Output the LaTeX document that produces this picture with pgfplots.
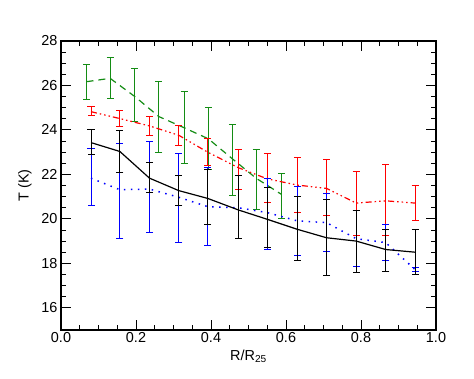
\documentclass[border=0pt]{standalone}
\usepackage{pgfplots}
\pgfplotsset{compat=1.18}
\usepackage{fontspec}
\setmainfont{Liberation Sans}
\definecolor{mygreen}{RGB}{20,140,20}
\begin{document}
\begin{tikzpicture}
\useasboundingbox (0,0) rectangle (474bp,379bp);
\begin{axis}[
  at={(61bp,49bp)}, anchor=south west,
  width=375bp, height=289bp, scale only axis,
  xmin=0, xmax=1, ymin=15, ymax=28,
  xtick={0,0.2,...,1.0}, ytick={16,18,...,28},
  minor x tick num=3, minor y tick num=3,
  xticklabel style={yshift=1bp, /pgf/number format/.cd, fixed, fixed zerofill, precision=1},
  /pgf/number format/assume math mode=true,
  tick align=inside,
  major tick length=10bp, minor tick length=5bp,
  axis line style={line width=1.1pt},
  every tick/.style={line width=0.9pt, black},
  tick label style={font=\fontsize{14.5}{16}\selectfont},
  label style={font=\fontsize{14.5}{16}\selectfont},
  xlabel={R/R\textsubscript{25}},
  ylabel={T (K)},
  xlabel style={yshift=0bp},
  ylabel style={yshift=3bp},
  error bars/y dir=both, error bars/y explicit,
  error bars/error mark options={line width=1pt, mark size=3.5bp, rotate=90},
  error bars/error bar style={line width=1pt},
]
\addplot[mygreen, line width=1.2pt, dash pattern=on 7bp off 5bp, mark=none,
  error bars/error bar style={mygreen, solid, line width=1pt},
  error bars/error mark options={mygreen, solid, line width=1pt, mark size=3.5bp, rotate=90}]
coordinates {
(0.068,26.17) += (0,0.79) -= (0,0.80)
(0.131,26.32) += (0,0.94) -= (0,0.90)
(0.197,25.50) += (0,1.28) -= (0,1.14)
(0.261,24.60) += (0,1.57) -= (0,1.60)
(0.328,24.10) += (0,1.62) -= (0,1.60)
(0.393,23.60) += (0,1.40) -= (0,1.40)
(0.457,22.70) += (0,1.54) -= (0,1.63)
(0.520,21.83) += (0,1.29) -= (0,1.39)
(0.588,21.10) += (0,0.95) -= (0,1.10)
};
\addplot[red, line width=1.2pt, dash pattern=on 6bp off 3bp on 1.5bp off 3bp on 1.5bp off 3bp on 1.5bp off 3bp, mark=none,
  error bars/error bar style={red, solid, line width=1pt},
  error bars/error mark options={red, solid, line width=1pt, mark size=3.5bp, rotate=90}]
coordinates {
(0.080,24.82) += (0,0.22) -= (0,0.16)
(0.157,24.51) += (0,0.38) -= (0,0.35)
(0.236,24.18) += (0,0.41) -= (0,0.45)
(0.314,23.76) += (0,0.42) -= (0,0.46)
(0.391,23.00) += (0,0.60) -= (0,0.60)
(0.473,22.30) += (0,0.82) -= (0,1.00)
(0.550,21.80) += (0,1.13) -= (0,1.05)
(0.630,21.52) += (0,1.23) -= (0,1.24)
(0.708,21.37) += (0,1.30) -= (0,1.24)
(0.787,20.71) += (0,1.42) -= (0,1.48)
(0.866,20.81) += (0,1.62) -= (0,1.58)
(0.944,20.71) += (0,0.79) -= (0,0.80)
};
\addplot[blue, line width=1.5pt, dash pattern=on 1.5bp off 5.5bp, mark=none,
  error bars/error bar style={blue, solid, line width=1pt},
  error bars/error mark options={blue, solid, line width=1pt, mark size=3.5bp, rotate=90}]
coordinates {
(0.080,21.83) += (0,1.32) -= (0,1.24)
(0.157,21.31) += (0,2.10) -= (0,2.20)
(0.236,21.34) += (0,2.12) -= (0,1.96)
(0.314,20.97) += (0,1.96) -= (0,2.04)
(0.391,20.55) += (0,1.75) -= (0,1.77)
(0.473,20.50) += (0,1.47) -= (0,1.40)
(0.550,20.28) += (0,1.52) -= (0,1.68)
(0.630,19.91) += (0,1.55) -= (0,1.58)
(0.708,19.83) += (0,1.31) -= (0,1.28)
(0.787,19.11) += (0,1.28) -= (0,1.27)
(0.866,18.93) += (0,0.83) -= (0,0.79)
(0.944,17.72) += (0,0.08) -= (0,0.07)
};
\addplot[black, line width=1.2pt, solid, mark=none,
  error bars/error bar style={black, solid, line width=1pt},
  error bars/error mark options={black, solid, line width=1pt, mark size=3.5bp, rotate=90}]
coordinates {
(0.080,23.43) += (0,0.60) -= (0,0.53)
(0.157,23.03) += (0,0.93) -= (0,0.95)
(0.236,21.83) += (0,0.72) -= (0,0.64)
(0.314,21.27) += (0,0.68) -= (0,0.65)
(0.391,20.92) += (0,1.28) -= (0,1.16)
(0.473,20.40) += (0,1.55) -= (0,1.30)
(0.550,19.98) += (0,1.44) -= (0,1.28)
(0.630,19.53) += (0,1.47) -= (0,1.40)
(0.708,19.15) += (0,1.74) -= (0,1.70)
(0.787,19.00) += (0,1.39) -= (0,1.40)
(0.866,18.62) += (0,0.91) -= (0,0.98)
(0.944,18.50) += (0,1.00) -= (0,1.01)
};
\end{axis}
\end{tikzpicture}
\end{document}
